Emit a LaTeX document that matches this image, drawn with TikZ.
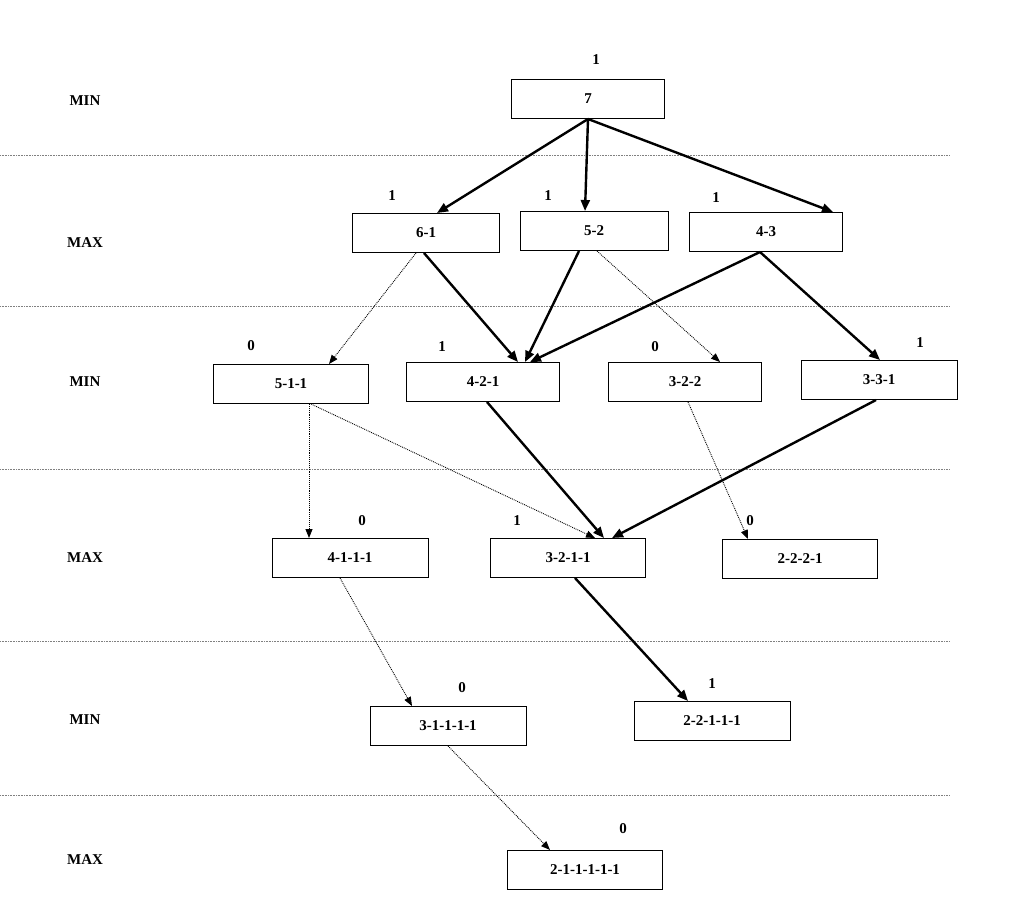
\documentclass[tikz,border=0pt]{standalone}
\usepackage{fontspec}
\setmainfont{Liberation Serif}
\usetikzlibrary{arrows.meta}
\begin{document}
\begin{tikzpicture}[x=1pt,y=-1pt,
  state/.style={draw,line width=1pt,minimum width=153pt,minimum height=39pt,inner sep=0pt,font=\fontsize{15}{18}\selectfont\bfseries},
  val/.style={font=\fontsize{15}{18}\selectfont\bfseries},
  lvl/.style={font=\fontsize{15}{18}\selectfont\bfseries},
  best/.style={line width=2.4pt,-{Triangle[length=11pt,width=9pt]}},
  other/.style={line width=0.9pt,densely dotted,-{Triangle[length=9pt,width=7pt]}},
  sep/.style={line width=0.6pt,densely dotted,gray}]
\useasboundingbox (0,0) rectangle (1024,915);
% levels
\foreach \y in {155,306,469,641,795} \draw[sep] (0,\y) -- (950,\y);
\node[lvl] (l0) at (85,101) {MIN};
\node[lvl] (l1) at (85,243) {MAX};
\node[lvl] (l2) at (85,382) {MIN};
\node[lvl] (l3) at (85,558) {MAX};
\node[lvl] (l4) at (85,720) {MIN};
\node[lvl] (l5) at (85,860) {MAX};
% states
\node[state] (n7) at (588,99) {7};
\node[state,minimum width=147pt] (n61) at (426,233) {6-1};
\node[state,minimum width=148pt] (n52) at (594,231) {5-2};
\node[state] (n43) at (766,232) {4-3};
\node[state,minimum width=155pt] (n511) at (291,384) {5-1-1};
\node[state] (n421) at (483,382) {4-2-1};
\node[state] (n322) at (685,382) {3-2-2};
\node[state,minimum width=156pt] (n331) at (879,380) {3-3-1};
\node[state,minimum width=156pt] (n4111) at (350,558) {4-1-1-1};
\node[state,minimum width=155pt] (n3211) at (568,558) {3-2-1-1};
\node[state,minimum width=155pt] (n2221) at (800,559) {2-2-2-1};
\node[state,minimum width=156pt] (n31111) at (448,726) {3-1-1-1-1};
\node[state,minimum width=156pt] (n22111) at (712,721) {2-2-1-1-1};
\node[state,minimum width=155pt] (n211111) at (585,870) {2-1-1-1-1-1};
% values
\node[val] (v7) at (596,60) {1};
\node[val] (v61) at (392,196) {1};
\node[val] (v52) at (548,196) {1};
\node[val] (v43) at (716,198) {1};
\node[val] (v511) at (251,346) {0};
\node[val] (v421) at (442,347) {1};
\node[val] (v322) at (655,347) {0};
\node[val] (v331) at (920,343) {1};
\node[val] (v4111) at (362,521) {0};
\node[val] (v3211) at (517,521) {1};
\node[val] (v2221) at (750,521) {0};
\node[val] (v31111) at (462,688) {0};
\node[val] (v22111) at (712,684) {1};
\node[val] (v211111) at (623,829) {0};
% moves
\draw[best] (n7.south) -- ([xshift=11pt]n61.north);
\draw[best] (n7.south) -- ([xshift=-9pt]n52.north);
\draw[best] (n7.south) -- ([xshift=67pt]n43.north);
\draw[other] ([xshift=-10pt]n61.south) -- ([xshift=38pt]n511.north);
\draw[best] ([xshift=-2pt]n61.south) -- ([xshift=35pt]n421.north);
\draw[best] ([xshift=-15pt]n52.south) -- ([xshift=42pt]n421.north);
\draw[other] ([xshift=3pt]n52.south) -- ([xshift=35pt]n322.north);
\draw[best] ([xshift=-6pt]n43.south) -- ([xshift=47pt]n421.north);
\draw[best] ([xshift=-6pt]n43.south) -- ([xshift=1pt]n331.north);
\draw[other] ([xshift=18pt]n511.south) -- ([xshift=-41pt]n4111.north);
\draw[other] ([xshift=20pt]n511.south) -- ([xshift=27pt]n3211.north);
\draw[best] ([xshift=4pt]n421.south) -- ([xshift=36pt]n3211.north);
\draw[best] ([xshift=-3pt]n331.south) -- ([xshift=44pt]n3211.north);
\draw[other] ([xshift=3pt]n322.south) -- ([xshift=-52pt]n2221.north);
\draw[other] ([xshift=-10pt]n4111.south) -- ([xshift=-36pt]n31111.north);
\draw[best] ([xshift=7pt]n3211.south) -- ([xshift=-24pt]n22111.north);
\draw[other] (n31111.south) -- ([xshift=-35pt]n211111.north);
\end{tikzpicture}
\end{document}
